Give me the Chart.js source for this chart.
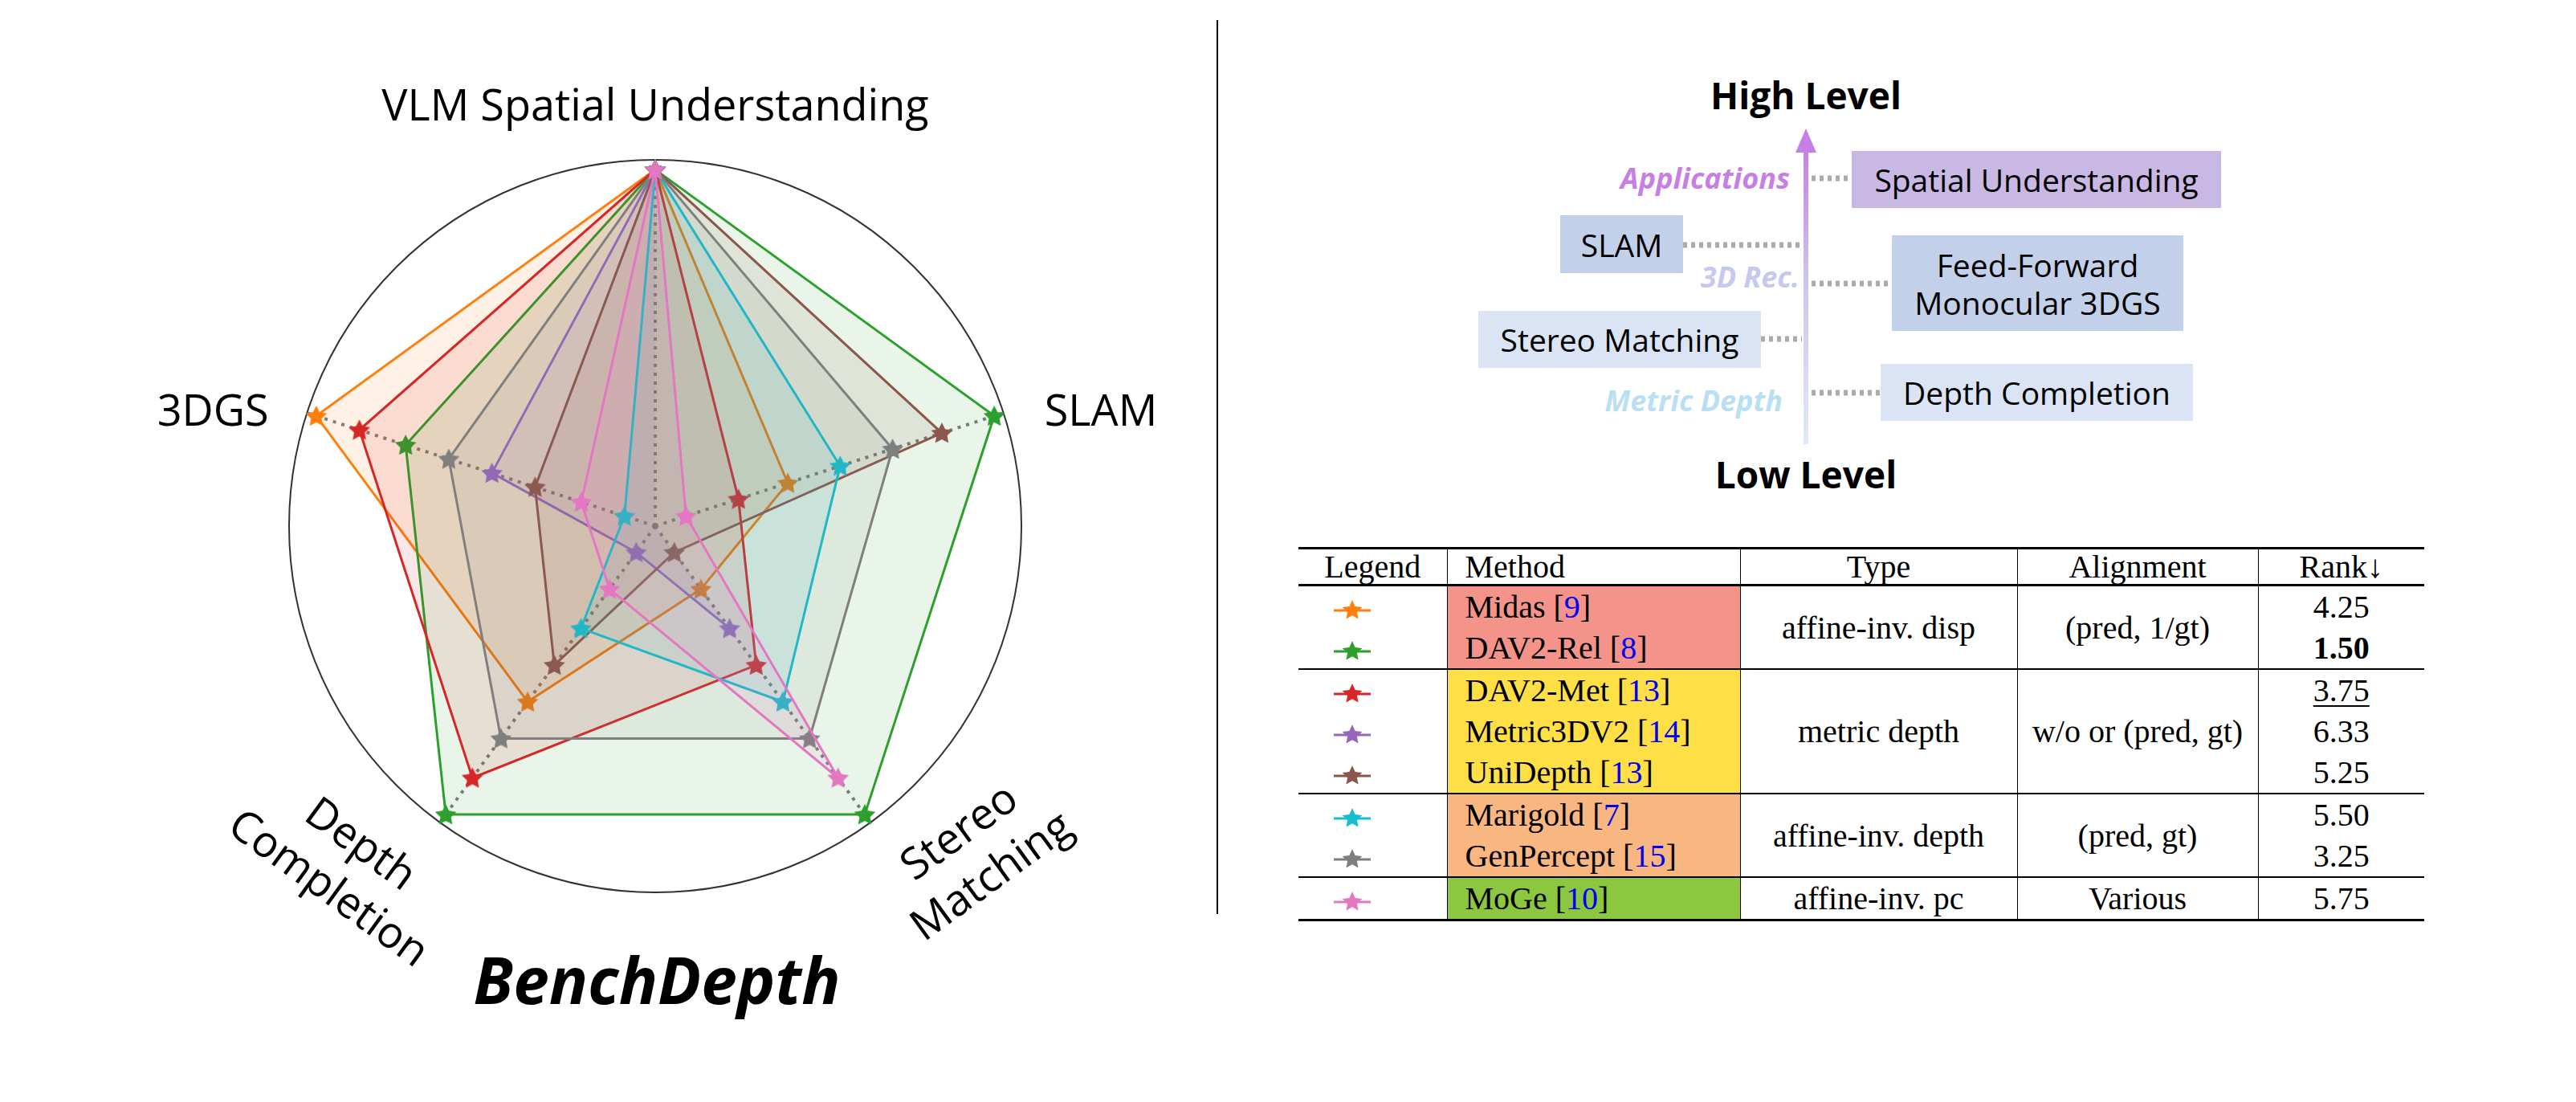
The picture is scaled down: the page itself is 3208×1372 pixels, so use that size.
<!DOCTYPE html>
<html>
<head>
<meta charset="utf-8">
<title>BenchDepth</title>
<script src="https://cdn.jsdelivr.net/npm/chart.js@4.4.1/dist/chart.umd.min.js"></script>
<style>
    html, body { margin: 0; padding: 0; background: #ffffff; }
    body { position: relative; width: 3208px; height: 1372px; overflow: hidden; font-family: "Open Sans", sans-serif; color: #000; }
    #GraphiqueRadar { position: absolute; left: 0; top: 0; }
    #titreBench { position: absolute; left: 418px; width: 800px; top: 1164px; text-align: center; font-size: 80px; font-weight: 700; font-style: italic; line-height: 110px; }
    #separateur { position: absolute; left: 1515px; top: 25px; width: 2px; height: 1113px; background: #000; }
    #schema { position: absolute; left: 1520px; top: 0; }
    .boite { position: absolute; display: flex; align-items: center; justify-content: center; text-align: center; font-size: 39px; line-height: 47px; }
    .niveau { position: absolute; width: 400px; margin-left: -200px; text-align: center; font-size: 46px; font-weight: 700; line-height: 60px; }
    .etape { position: absolute; text-align: right; font-size: 36px; font-weight: 700; font-style: italic; line-height: 50px; white-space: nowrap; }
    table.resume { position: absolute; left: 1617px; top: 681px; width: 1402px; border-collapse: collapse; table-layout: fixed;
                   font-family: "Liberation Serif", "Times New Roman", serif; font-size: 40px; border-top: 3px solid #000; border-bottom: 3px solid #000; }
    table.resume td, table.resume th { padding: 0; font-weight: normal; white-space: nowrap; }
    table.resume td + td, table.resume th + th { border-left: 1.5px solid #000; }
    table.resume tr.entete th { height: 43px; border-bottom: 3px solid #000; line-height: 43px; }
    table.resume tr.debut td { border-top: 2px solid #000; }
    table.resume tr.ligne td { height: 51px; line-height: 51px; }
    td.leg { padding-left: 43px !important; }
    td.leg svg { vertical-align: middle; }
    td.meth { padding-left: 22px !important; text-align: left; }
    td.mil, th.mil { text-align: center; }
    span.ref { color: #0000ee; }
    span.souligne { text-decoration: underline; text-decoration-thickness: 2px; text-underline-offset: 5px; }
</style>
</head>
<body>

<canvas id="GraphiqueRadar" width="1500" height="1372"></canvas>
<div id="titreBench">BenchDepth</div>
<div id="separateur"></div>

<svg id="schema" width="1688" height="660" viewBox="1520 0 1688 660">
    <defs>
        <linearGradient id="degrade" x1="0" y1="1" x2="0" y2="0">
            <stop offset="0" stop-color="#e2e9f6"/>
            <stop offset="0.55" stop-color="#cdc4ee"/>
            <stop offset="1" stop-color="#c57fe6"/>
        </linearGradient>
    </defs>
    <rect x="2246" y="182" width="6" height="371" fill="url(#degrade)"/>
    <polygon points="2249,160 2236,190 2262,190" fill="#c57fe6"/>
    <g stroke="#ababab" stroke-width="7" stroke-dasharray="5 5" fill="none">
        <line x1="2256" y1="222" x2="2306" y2="222"/>
        <line x1="2096" y1="305" x2="2244" y2="305"/>
        <line x1="2256" y1="353" x2="2356" y2="353"/>
        <line x1="2193" y1="422" x2="2244" y2="422"/>
        <line x1="2256" y1="489" x2="2342" y2="489"/>
    </g>
</svg>

<div class="niveau" style="left:2249px; top:88px;">High Level</div>
<div class="niveau" style="left:2249px; top:560px;">Low Level</div>

<div class="boite" style="left:2306px; top:188px; width:460px; height:71px; background:#c9b8e3;">Spatial Understanding</div>
<div class="boite" style="left:1943px; top:268px; width:153px; height:72px; background:#c3d0e9;">SLAM</div>
<div class="boite" style="left:2356px; top:293px; width:363px; height:119px; background:#c3d0e9;">Feed-Forward<br>Monocular 3DGS</div>
<div class="boite" style="left:1841px; top:387px; width:352px; height:71px; background:#dbe4f4;">Stereo Matching</div>
<div class="boite" style="left:2342px; top:453px; width:389px; height:71px; background:#dbe4f4;">Depth Completion</div>

<div class="etape" style="right:979px; top:197px; color:#c680e3;">Applications</div>
<div class="etape" style="right:967px; top:320px; color:#c6c8f0;">3D Rec.</div>
<div class="etape" style="right:988px; top:474px; color:#b9e0f2;">Metric Depth</div>

<table class="resume" id="TableauMethodes"></table>

<script>
var taches = ['VLM Spatial Understanding', 'SLAM', 'Stereo Matching', 'Depth Completion', '3DGS'];

var methodes = ['Midas', 'DAV2-Rel', 'DAV2-Met', 'Metric3DV2', 'UniDepth', 'Marigold', 'GenPercept', 'MoGe'];
var references = ['9', '8', '13', '14', '13', '7', '15', '10'];
var couleurs = ['#ff7f0e', '#2ca02c', '#d62728', '#9467bd', '#8c564b', '#17becf', '#7f7f7f', '#e377c2'];

// score normalise par tache (1 = meilleur), meme ordre que taches
var midas      = [1, 0.33, 0.14, 0.57, 1];
var dav2Rel    = [1, 1, 1, 1, 0.71];
var dav2Met    = [1, 0.17, 0.43, 0.86, 0.86];
var metric3dv2 = [1, null, 0.29, 0, 0.43];
var uniDepth   = [1, 0.83, 0, 0.43, 0.29];
var marigold   = [1, 0.5, 0.57, 0.29, 0];
var genPercept = [1, 0.67, 0.71, 0.71, 0.57];
var moge       = [1, 0, 0.86, 0.14, 0.14];
var scores = [midas, dav2Rel, dav2Met, metric3dv2, uniDepth, marigold, genPercept, moge];

var rangs = ['4.25', '1.50', '3.75', '6.33', '5.25', '5.50', '3.25', '5.75'];
var rangGras = 1;
var rangSouligne = 2;

var groupes = [2, 3, 2, 1];
var types = ['affine-inv. disp', 'metric depth', 'affine-inv. depth', 'affine-inv. pc'];
var alignements = ['(pred, 1/gt)', 'w/o or (pred, gt)', '(pred, gt)', 'Various'];
var fondsGroupes = ['#f4938a', '#fedf45', '#f8b680', '#8dc63f'];

function EtoileImage(couleur, rayon) {
    var c = document.createElement('canvas');
    c.width = rayon * 2 + 2;
    c.height = rayon * 2 + 2;
    var g = c.getContext('2d');
    g.beginPath();
    for (var i = 0; i < 10; i++) {
        var r = (i % 2 === 0) ? rayon : rayon * 0.5;
        var a = -Math.PI / 2 + i * Math.PI / 5;
        var px = c.width / 2 + r * Math.cos(a);
        var py = c.height / 2 + 1 + r * Math.sin(a);
        if (i === 0) g.moveTo(px, py); else g.lineTo(px, py);
    }
    g.closePath();
    g.fillStyle = couleur;
    g.fill();
    return c;
}

function EtoileSvg(couleur) {
    var pts = [];
    for (var i = 0; i < 10; i++) {
        var r = (i % 2 === 0) ? 13 : 6.2;
        var a = -Math.PI / 2 + i * Math.PI / 5;
        pts.push((24 + r * Math.cos(a)).toFixed(1) + ',' + (15 + r * Math.sin(a)).toFixed(1));
    }
    return '<svg width="48" height="30"><line x1="1" y1="15" x2="47" y2="15" stroke="' + couleur + '" stroke-width="3"/>' +
        '<polygon points="' + pts.join(' ') + '" fill="' + couleur + '"/></svg>';
}

function Transparent(hex, alpha) {
    var n = parseInt(hex.slice(1), 16);
    return 'rgba(' + (n >> 16) + ',' + ((n >> 8) & 255) + ',' + (n & 255) + ',' + alpha + ')';
}

var etiquettesRadar = {
    id: 'etiquettesRadar',
    afterDraw: function (chart) {
        var s = chart.scales.r;
        var g = chart.ctx;
        var d = s.drawingArea;
        g.save();
        g.fillStyle = '#000';
        g.font = '54px "Open Sans"';
        g.textAlign = 'center';
        g.textBaseline = 'alphabetic';
        g.fillText(taches[0], s.xCenter, s.yCenter - 1.108 * d);
        g.fillText(taches[1], s.xCenter + 1.217 * d, s.yCenter - 0.274 * d);
        g.fillText(taches[4], s.xCenter - 1.208 * d, s.yCenter - 0.274 * d);

        g.textBaseline = 'middle';
        var mots = taches[2].split(' ');
        g.save();
        g.translate(s.xCenter + 0.877 * d, s.yCenter + 0.899 * d);
        g.rotate(-36 * Math.PI / 180);
        g.fillText(mots[0], 0, -34);
        g.fillText(mots[1], 0, 34);
        g.restore();

        mots = taches[3].split(' ');
        g.save();
        g.translate(s.xCenter - 0.851 * d, s.yCenter + 0.932 * d);
        g.rotate(36 * Math.PI / 180);
        g.fillText(mots[0], 0, -34);
        g.fillText(mots[1], 0, 34);
        g.restore();
        g.restore();
    }
};

function ChargerGraphiqueRadar() {
    var jeux = [];
    for (var i = 0; i < methodes.length; i++) {
        jeux.push({
            label: methodes[i],
            data: scores[i],
            borderColor: couleurs[i],
            backgroundColor: Transparent(couleurs[i], 0.11),
            borderWidth: 3,
            fill: 'start',
            pointStyle: EtoileImage(couleurs[i], 14),
            order: -i
        });
    }

    var ctx = document.getElementById('GraphiqueRadar').getContext('2d');
    var graphique = new Chart(ctx, {
        type: 'radar',
        data: {
            labels: taches,
            datasets: jeux
        },
        options: {
            responsive: false,
            animation: false,
            events: [],
            layout: { padding: { left: 360, right: 228, top: 199, bottom: 261 } },
            plugins: {
                legend: { display: false },
                tooltip: { enabled: false }
            },
            elements: { line: { tension: 0 } },
            scales: {
                r: {
                    min: -0.1,
                    max: 1.03,
                    ticks: { display: false },
                    pointLabels: { display: false },
                    grid: {
                        circular: true,
                        lineWidth: 2,
                        color: function (c) {
                            return c.index === c.scale.ticks.length - 1 ? '#333333' : 'rgba(0,0,0,0)';
                        }
                    },
                    angleLines: { color: '#7c7c7c', lineWidth: 4, borderDash: [4, 7] }
                }
            }
        },
        plugins: [etiquettesRadar]
    });
}

function ChargerTableau() {
    var html = '<colgroup><col style="width:185px"><col style="width:365px"><col style="width:345px"><col style="width:300px"><col style="width:207px"></colgroup>';
    html += '<tr class="entete"><th class="mil">Legend</th><th class="meth" style="text-align:left; padding-left:22px;">Method</th>' +
        '<th class="mil">Type</th><th class="mil">Alignment</th><th class="mil">Rank&#8595;</th></tr>';
    var k = 0;
    for (var gI = 0; gI < groupes.length; gI++) {
        for (var j = 0; j < groupes[gI]; j++) {
            html += '<tr class="ligne' + (j === 0 ? ' debut' : '') + '">';
            html += '<td class="leg">' + EtoileSvg(couleurs[k]) + '</td>';
            html += '<td class="meth" style="background:' + fondsGroupes[gI] + '">' + methodes[k] + ' [<span class="ref">' + references[k] + '</span>]</td>';
            if (j === 0) {
                html += '<td class="mil" rowspan="' + groupes[gI] + '">' + types[gI] + '</td>';
                html += '<td class="mil" rowspan="' + groupes[gI] + '">' + alignements[gI] + '</td>';
            }
            var r = rangs[k];
            if (k === rangGras) r = '<b>' + r + '</b>';
            if (k === rangSouligne) r = '<span class="souligne">' + r + '</span>';
            html += '<td class="mil">' + r + '</td></tr>';
            k++;
        }
    }
    document.getElementById('TableauMethodes').innerHTML = html;
}

ChargerGraphiqueRadar();
ChargerTableau();
</script>
</body>
</html>
